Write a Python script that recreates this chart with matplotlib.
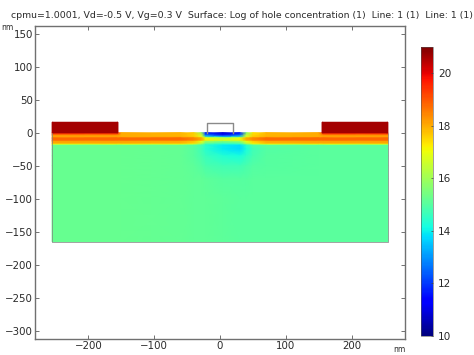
import numpy as np
import matplotlib
matplotlib.use("Agg")
import matplotlib.pyplot as plt

title = "cpmu=1.0001, Vd=-0.5 V, Vg=0.3 V  Surface: Log of hole concentration (1)  Line: 1 (1)  Line: 1 (1)"

# log10 hole concentration, rows top to bottom
x_nm = [-255, -157, -150, -60, -40, -28, -22, 4, 30, 40, 50, 70, 150, 157, 255]
y_nm = [0, -2, -4, -7, -8, -12, -13, -16, -18, -19, -25, -35, -50, -70, -100, -165]
log_p = [
    [19.6, 19.6, 18.0, 17.9, 17.6, 15.8, 11.8, 10.8, 11.6, 15.6, 17.3, 17.9, 18.0, 19.6, 19.6],
    [19.2, 19.2, 18.0, 17.9, 17.6, 16.2, 12.0, 11.0, 11.9, 16.0, 17.4, 17.9, 18.0, 19.2, 19.2],
    [18.3, 18.3, 18.0, 17.9, 17.6, 16.6, 12.8, 11.7, 12.6, 16.4, 17.5, 17.9, 18.0, 18.3, 18.3],
    [18.0, 18.0, 18.0, 18.0, 17.7, 17.0, 15.0, 14.2, 14.8, 17.0, 17.7, 18.0, 18.0, 18.0, 18.0],
    [18.8, 18.8, 18.8, 18.8, 18.5, 18.0, 17.0, 16.4, 16.9, 18.0, 18.4, 18.8, 18.8, 18.8, 18.8],
    [18.8, 18.8, 18.8, 18.8, 18.5, 18.0, 17.2, 16.8, 17.1, 18.0, 18.4, 18.8, 18.8, 18.8, 18.8],
    [18.1, 18.1, 18.1, 18.0, 17.7, 17.0, 16.0, 15.6, 15.9, 17.0, 17.6, 18.0, 18.1, 18.1, 18.1],
    [18.0, 18.0, 18.0, 17.9, 17.5, 16.4, 15.2, 14.8, 15.0, 16.4, 17.3, 17.9, 18.0, 18.0, 18.0],
    [17.0, 17.0, 17.0, 16.9, 16.5, 15.6, 14.7, 14.3, 14.4, 15.6, 16.4, 16.9, 17.0, 17.0, 17.0],
    [15.2, 15.2, 15.2, 15.18, 15.0, 14.8, 14.4, 13.95, 13.75, 14.4, 14.9, 15.05, 15.05, 15.05, 15.05],
    [15.2, 15.2, 15.2, 15.18, 15.0, 14.7, 14.4, 13.95, 13.7, 14.2, 14.7, 14.95, 15.05, 15.05, 15.05],
    [15.2, 15.2, 15.2, 15.17, 15.0, 14.8, 14.6, 14.3, 14.2, 14.5, 14.8, 15.0, 15.05, 15.05, 15.05],
    [15.2, 15.2, 15.2, 15.16, 15.1, 14.95, 14.85, 14.7, 14.7, 14.85, 14.95, 15.02, 15.05, 15.05, 15.05],
    [15.2, 15.2, 15.2, 15.16, 15.14, 15.12, 15.08, 15.0, 15.0, 15.02, 15.03, 15.04, 15.05, 15.05, 15.05],
    [15.2, 15.2, 15.2, 15.16, 15.14, 15.13, 15.12, 15.08, 15.07, 15.06, 15.06, 15.05, 15.05, 15.05, 15.05],
    [15.2, 15.2, 15.2, 15.16, 15.14, 15.13, 15.12, 15.08, 15.07, 15.06, 15.06, 15.05, 15.05, 15.05, 15.05],
]

contact_left = [-255, -155]
contact_right = [155, 255]
contact_top = 16
contact_value = [[20.65, 20.65], [20.65, 20.65]]
gate_x = [-20, -20, 20, 20]
gate_y = [0, 15, 15, 0]
outline_x = [-255, -255, 255, 255]
outline_y = [0, -165, -165, 0]

x_ticks = [-200, -100, 0, 100, 200]
y_ticks = [-300, -250, -200, -150, -100, -50, 0, 50, 100, 150]
cbar_ticks = [10, 12, 14, 16, 18, 20]

plt.rcParams["font.family"] = "DejaVu Sans"
plt.rcParams["font.size"] = 7.4
text_col = "#2a2a2a"
spine_col = "#707070"

fig = plt.figure(figsize=(4.74, 3.55), dpi=100)
ax = fig.add_axes([35 / 474, 1 - 338.5 / 355, 370 / 474, 312.5 / 355])
mesh = ax.pcolormesh(x_nm, y_nm, np.array(log_p), cmap="jet", vmin=10, vmax=21, shading="gouraud")
ax.pcolormesh(contact_left, [0, contact_top], contact_value, cmap="jet", vmin=10, vmax=21, shading="gouraud")
ax.pcolormesh(contact_right, [0, contact_top], contact_value, cmap="jet", vmin=10, vmax=21, shading="gouraud")
ax.plot(gate_x, gate_y, color="#8a8a8a", lw=1.0)
ax.plot(outline_x, outline_y, color="#808080", lw=0.5)

ax.set_xlim(-281, 281)
ax.set_ylim(-312, 162)
ax.set_xticks(x_ticks)
ax.set_yticks(y_ticks)
ax.tick_params(top=True, right=True, direction="in", length=3.2, width=0.7, color=spine_col,
               labelcolor=text_col, pad=1.5)
for s in ax.spines.values():
    s.set_color(spine_col)
    s.set_linewidth(1.0)

fig.text(1 / 474, 1 - 27 / 355, "nm", fontsize=5.5, color=text_col, va="center")
fig.text(393 / 474, 1 - 349.5 / 355, "nm", fontsize=5.5, color=text_col, va="center")
fig.text(11 / 474, 1 - 15.5 / 355, title, fontsize=6.74, color=text_col, va="center")

cax = fig.add_axes([420.5 / 474, 1 - 335.5 / 355, 12 / 474, 288.5 / 355])
cb = fig.colorbar(mesh, cax=cax, ticks=cbar_ticks)
cb.ax.tick_params(direction="in", length=1.5, width=0.5, labelsize=7.6, color="#444444", labelcolor=text_col, pad=4)
cb.outline.set_linewidth(0.4)
cb.outline.set_edgecolor("#555555")

fig.savefig("out.png", dpi=100)
